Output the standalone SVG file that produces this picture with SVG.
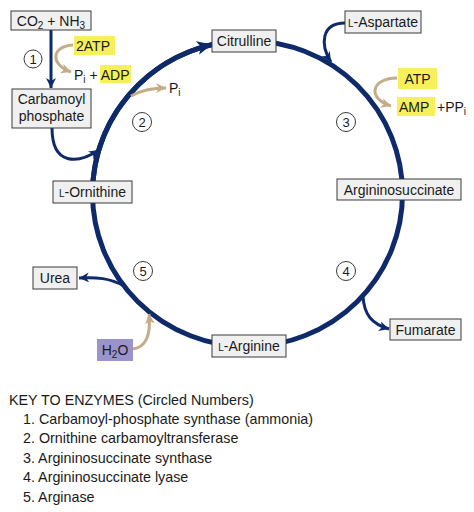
<svg xmlns="http://www.w3.org/2000/svg" width="474" height="512" viewBox="0 0 474 512">
<style>
text{font-family:"Liberation Sans",Arial,sans-serif;font-size:14px;fill:#1a1a1a}
.box{fill:#f0f0f0;stroke:#3a3a3a;stroke-width:1}
.ylw{fill:#f6f05a}
.pur{fill:#9a93cc}
.ring{fill:none;stroke:#0e2a6b;stroke-width:5}
.nav{fill:none;stroke:#0e2a6b;stroke-width:3}
.tan{fill:none;stroke:#c3ac88;stroke-width:3}
.num{fill:#fff;stroke:#3a3a3a;stroke-width:1}
.n{font-size:13px;text-anchor:middle}
.c{text-anchor:middle}
.sc{font-size:10px}
.sub{font-size:10px}
.k{font-size:14.3px}
</style>
<defs>
<marker id="big" markerUnits="userSpaceOnUse" markerWidth="18" markerHeight="16" refX="15" refY="7" orient="auto">
<path d="M0,0 L15,7 L0,14 L4,7 Z" fill="#0e2a6b"/>
</marker>
<marker id="nv" markerUnits="userSpaceOnUse" markerWidth="12" markerHeight="12" refX="10" refY="5" orient="auto">
<path d="M0,0 L10,5 L0,10 L3,5 Z" fill="#0e2a6b"/>
</marker>
<marker id="tn" markerUnits="userSpaceOnUse" markerWidth="12" markerHeight="12" refX="10" refY="5" orient="auto">
<path d="M0,0 L10,5 L0,10 L3,5 Z" fill="#c3ac88"/>
</marker>
</defs>
<g id="connectors">
<ellipse class="ring" cx="247.5" cy="193.5" rx="155" ry="153"/>
<path class="ring" d="M93,181 A155,153 0 0 1 212,44.6" stroke-width="6" marker-end="url(#big)"/>
<path class="nav" d="M51,30 L51,88" marker-end="url(#nv)"/>
<path class="nav" d="M52,128 C52,166 78,164 99,150" marker-end="url(#nv)"/>
<path class="nav" d="M345,23 C321,23 320,45 331,62" marker-end="url(#nv)"/>
<path class="nav" d="M124,286 C110,278 96,277 79,278" marker-end="url(#nv)"/>
<path class="nav" d="M363,296 C364,315 372,324 389,329" marker-end="url(#nv)"/>
<path class="tan" d="M73,45 C52,46 49,64 71,72" marker-end="url(#tn)"/>
<path class="tan" d="M131,96 Q145,88 166,88" marker-end="url(#tn)"/>
<path class="tan" d="M397,78 C372,78 366,98 391,106" marker-end="url(#tn)"/>
<path class="tan" d="M133,349 C146,347 151,334 149,314" marker-end="url(#tn)"/>
</g>
<g id="co2"><rect class="box" x="11" y="11" width="80" height="19"/><text x="51" y="26" class="c">CO<tspan class="sub" dy="3">2</tspan><tspan dy="-3"> + NH</tspan><tspan class="sub" dy="3">3</tspan></text></g>
<g id="carbamoyl"><rect class="box" x="12" y="89" width="79" height="39"/><text x="51.5" y="104" class="c">Carbamoyl</text><text x="51.5" y="121" class="c">phosphate</text></g>
<g id="atp2"><rect class="ylw" x="74" y="36" width="41" height="19"/><text x="76" y="51">2ATP</text></g>
<g id="piadp"><rect class="ylw" x="100" y="65" width="31" height="18"/><text x="74" y="80">P<tspan class="sub" dy="3">i</tspan><tspan dy="-3"> + ADP</tspan></text></g>
<g id="pi"><text x="169" y="93">P<tspan class="sub" dy="3">i</tspan></text></g>
<g id="citrulline"><rect class="box" x="212" y="30" width="64" height="22"/><text x="244" y="46" class="c">Citrulline</text></g>
<g id="aspartate"><rect class="box" x="345" y="11" width="76" height="22"/><text x="383" y="27" class="c"><tspan class="sc">L</tspan>-Aspartate</text></g>
<g id="atp"><rect class="ylw" x="398" y="68" width="39" height="21"/><text x="417.5" y="84" class="c">ATP</text></g>
<g id="amp"><rect class="ylw" x="397" y="97" width="38" height="19"/><text x="399" y="112">AMP</text><text x="437" y="112">+PP<tspan class="sub" dy="3">i</tspan></text></g>
<g id="argininosuccinate"><rect class="box" x="337" y="179" width="124" height="21"/><text x="399" y="195" class="c">Argininosuccinate</text></g>
<g id="ornithine"><rect class="box" x="53" y="181" width="79" height="22"/><text x="92.5" y="197" class="c"><tspan class="sc">L</tspan>-Ornithine</text></g>
<g id="urea"><rect class="box" x="33" y="267" width="44" height="22"/><text x="55" y="283" class="c">Urea</text></g>
<g id="h2o"><rect class="pur" x="97" y="339" width="36" height="22"/><text x="115" y="355" class="c">H<tspan class="sub" dy="3">2</tspan><tspan dy="-3">O</tspan></text></g>
<g id="arginine"><rect class="box" x="212" y="335" width="74" height="22"/><text x="249" y="351" class="c"><tspan class="sc">L</tspan>-Arginine</text></g>
<g id="fumarate"><rect class="box" x="390" y="319" width="71" height="21"/><text x="425.5" y="335" class="c">Fumarate</text></g>
<g id="e1"><circle class="num" cx="33" cy="59" r="9"/><text x="33" y="63.5" class="n">1</text></g>
<g id="e2"><circle class="num" cx="142" cy="122" r="9.5"/><text x="142" y="126.5" class="n">2</text></g>
<g id="e3"><circle class="num" cx="346" cy="122" r="9.5"/><text x="346" y="126.5" class="n">3</text></g>
<g id="e4"><circle class="num" cx="346" cy="271" r="9.5"/><text x="346" y="275.5" class="n">4</text></g>
<g id="e5"><circle class="num" cx="143" cy="271" r="9.5"/><text x="143" y="275.5" class="n">5</text></g>
<g id="key">
<text class="k" x="9" y="405">KEY TO ENZYMES (Circled Numbers)</text>
<text class="k" x="23" y="424">1. Carbamoyl-phosphate synthase (ammonia)</text>
<text class="k" x="23" y="443">2. Ornithine carbamoyltransferase</text>
<text class="k" x="23" y="463">3. Argininosuccinate synthase</text>
<text class="k" x="23" y="482">4. Argininosuccinate lyase</text>
<text class="k" x="23" y="502">5. Arginase</text>
</g>
</svg>
